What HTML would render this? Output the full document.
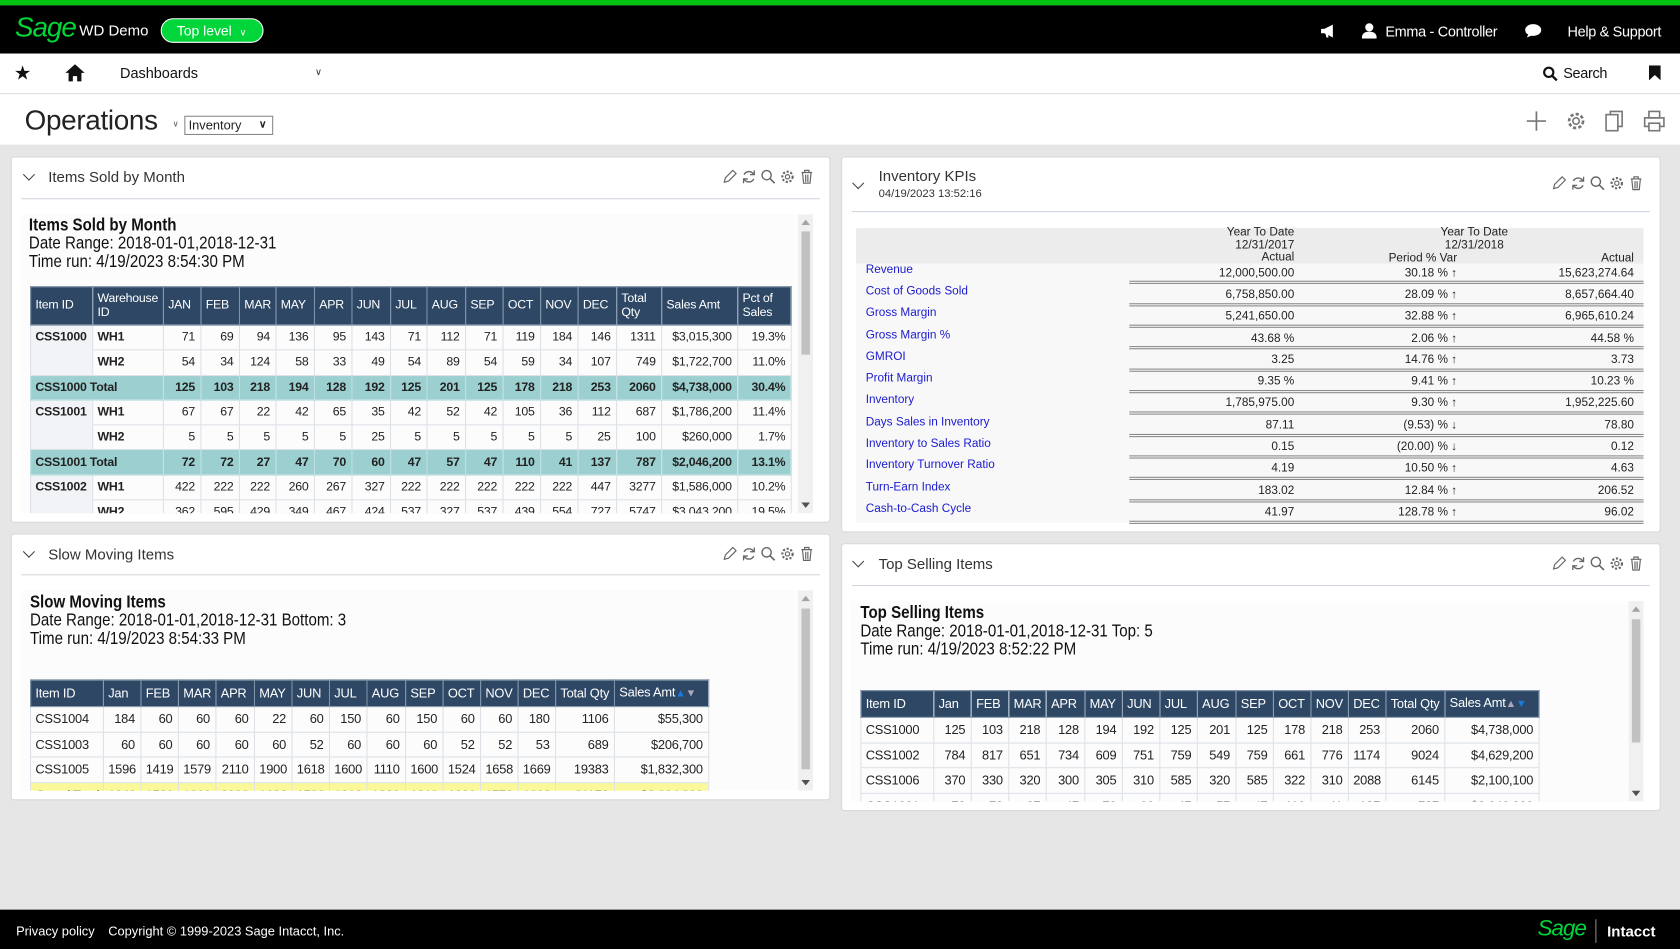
<!DOCTYPE html>
<html><head><meta charset="utf-8">
<style>
html,body{margin:0;padding:0;width:1680px;height:949px;overflow:hidden;background:#e6e6e6;}
#w{position:absolute;left:0;top:0;width:1568px;height:886px;transform:scale(1.071429);transform-origin:0 0;font-family:"Liberation Sans",Arial,sans-serif;color:#222;background:#e6e6e6;overflow:hidden}
.a{position:absolute}
.cond{display:inline-block;transform:scaleX(.88);transform-origin:0 0;white-space:nowrap}
.panel{position:absolute;background:#fff;border:1px solid #d6d9dc;border-radius:3px}
.ptitle{position:absolute;font-size:14px;color:#333;white-space:nowrap}
.chev{position:absolute;width:7px;height:7px;border-right:1.5px solid #444;border-bottom:1.5px solid #444;transform:rotate(45deg)}
.div{position:absolute;height:1px;background:#cfd6dd}
.icons{position:absolute;display:flex;gap:4px}
.icons svg{width:14px;height:14px}
.rep{position:absolute;background:#fcfcfc;overflow:hidden}
.sb{position:absolute;background:#f0f0f0;width:14px}
.sb .th{position:absolute;left:3px;width:8px;background:#c1c1c1}
.sb .up,.sb .dn{position:absolute;left:3px;width:0;height:0;border-left:4px solid transparent;border-right:4px solid transparent}
.sb .up{top:5px;border-bottom:5px solid #a3a3a3}
.sb .dn{bottom:5px;border-top:5px solid #505050}
.rh{position:absolute;font-size:16px;line-height:17px;color:#111}
table.t{position:absolute;border-collapse:collapse;table-layout:fixed;font-size:12px;letter-spacing:-0.2px}
table.t th{background:#2d4764;color:#fff;font-weight:normal;text-align:left;padding:0 4px;border:1px solid #7f93a8;line-height:13px;overflow:hidden}
table.t td{border:1px solid #dde2e8;padding:0 5px 0 4px;text-align:right;white-space:nowrap;overflow:hidden;color:#222}
table.t td.l{text-align:left}
table.t td.id{background:#f1f3f6;text-align:left;vertical-align:top;padding-top:5px;font-weight:bold}
table.t td.wh{text-align:left;font-weight:bold}
table.t tr.tot td{background:#9ccfcf;font-weight:bold;border-color:#bfe0e0}
table.t tr.yel td{background:#fbf89a}
.kl{position:absolute;left:808px;font-size:11px;color:#1a1ad0;white-space:nowrap}
.kv{position:absolute;font-size:11px;color:#222;text-align:right;white-space:nowrap}
.kline{position:absolute;left:1054px;width:480px;height:1px;border-top:1px solid #8a8a8a;border-bottom:1px solid #8a8a8a}
.arr{font-weight:bold;font-size:11px}
</style></head><body><div id="w">

<div class="a" style="left:0;top:0;width:1568px;height:5px;background:#00c211"></div>
<div class="a" style="left:0;top:5px;width:1568px;height:45px;background:#000"></div>
<div class="a" style="left:14px;top:10px;font-size:26px;color:#00d639;font-style:italic;letter-spacing:-1px">Sage</div>
<div class="a" style="left:74px;top:20px;font-size:14px;color:#fff">WD Demo</div>
<div class="a" style="left:150px;top:17px;width:96px;height:23px;border:1px solid #fff;border-radius:12px;background:#00d639;color:#fff;font-size:13px;line-height:22px;box-sizing:border-box;padding-left:14px">Top level&nbsp;&nbsp;<span style="font-size:9px">&#8744;</span></div>
<svg class="a" style="left:1232px;top:22px" width="16" height="14" viewBox="0 0 16 14"><path d="M1 5h3l8-4v12l-8-4H1z" fill="#fff"/><path d="M5 9l1 4h2l-1-4" fill="#fff"/></svg>
<svg class="a" style="left:1271px;top:21px" width="14" height="15" viewBox="0 0 14 15"><circle cx="7" cy="4.5" r="3.8" fill="#fff"/><path d="M0 15c0-5 3-6.5 7-6.5s7 1.5 7 6.5z" fill="#fff"/></svg>
<div class="a" style="left:1293px;top:22px;font-size:13.5px;color:#fff;letter-spacing:-0.3px">Emma - Controller</div>
<svg class="a" style="left:1423px;top:22px" width="16" height="14" viewBox="0 0 16 14"><ellipse cx="8" cy="6" rx="7.5" ry="5.5" fill="#fff"/><path d="M2 13l2-4 3 2z" fill="#fff"/></svg>
<div class="a" style="left:1463px;top:22px;font-size:13.5px;color:#fff;letter-spacing:-0.3px">Help &amp; Support</div>

<div class="a" style="left:0;top:50px;width:1568px;height:37px;background:#fff;border-bottom:1px solid #d8dde2"></div>
<div class="a" style="left:13px;top:58px;font-size:18px;color:#111">&#9733;</div>
<svg class="a" style="left:60px;top:59px" width="20" height="18" viewBox="0 0 20 18"><path d="M10 1L1 9h3v8h4v-5h4v5h4V9h3z" fill="#111"/></svg>
<div class="a" style="left:112px;top:61px;font-size:13.5px;color:#111">Dashboards</div>
<div class="a" style="left:294px;top:62px;font-size:9px;color:#333">&#8744;</div>
<svg class="a" style="left:1440px;top:62px" width="14" height="14" viewBox="0 0 14 14"><circle cx="5.5" cy="5.5" r="4.3" fill="none" stroke="#111" stroke-width="2"/><path d="M8.5 8.5L13 13" stroke="#111" stroke-width="2.2"/></svg>
<div class="a" style="left:1459px;top:61px;font-size:13.5px;color:#111;letter-spacing:-0.3px">Search</div>
<svg class="a" style="left:1539px;top:61px" width="11" height="14" viewBox="0 0 11 14"><path d="M0 0h11v14L5.5 9 0 14z" fill="#111"/></svg>

<div class="a" style="left:0;top:88px;width:1568px;height:47px;background:#fff"></div>
<div class="a" style="left:23px;top:97px;font-size:26px;color:#222;letter-spacing:-0.3px">Operations</div>
<div class="a" style="left:161px;top:111px;font-size:8px;color:#555">&#8744;</div>
<div class="a" style="left:172px;top:108px;width:83px;height:18px;border:1px solid #888;box-sizing:border-box;font-size:12px;line-height:16px;padding-left:3px;background:#fff">Inventory<span style="position:absolute;right:5px;top:0;font-size:10px;font-weight:bold">&#8744;</span></div>
<svg class="a" style="left:1424px;top:103px" width="20" height="20" viewBox="0 0 20 20"><path d="M10 1v18M1 10h18" stroke="#777" stroke-width="1.6"/></svg>
<svg class="a" style="left:1461px;top:103px" width="20" height="20" viewBox="0 0 20 20"><circle cx="10" cy="10" r="6.5" fill="none" stroke="#777" stroke-width="2.5" stroke-dasharray="3 2"/><circle cx="10" cy="10" r="3" fill="none" stroke="#777" stroke-width="1.5"/></svg>
<svg class="a" style="left:1498px;top:103px" width="18" height="20" viewBox="0 0 18 20"><rect x="1" y="4" width="11" height="15" fill="none" stroke="#777" stroke-width="1.5"/><path d="M5 4V1h11v14h-4" fill="none" stroke="#777" stroke-width="1.5"/></svg>
<svg class="a" style="left:1534px;top:103px" width="20" height="20" viewBox="0 0 20 20"><rect x="5" y="1" width="10" height="6" fill="none" stroke="#777" stroke-width="1.5"/><rect x="1" y="7" width="18" height="8" fill="none" stroke="#777" stroke-width="1.5"/><rect x="5" y="12" width="10" height="7" fill="#fff" stroke="#777" stroke-width="1.5"/></svg>

<!-- Panel 1 -->
<div class="panel" style="left:10px;top:146px;width:763px;height:340px"></div>
<div class="chev" style="left:23px;top:159px"></div>
<div class="ptitle" style="left:45px;top:157px">Items Sold by Month</div>
<div class="icons" style="left:674px;top:158px">
<svg viewBox="0 0 14 14"><path d="M2 12l1-4 7-7 3 3-7 7z" fill="none" stroke="#666" stroke-width="1.1"/></svg>
<svg viewBox="0 0 14 14"><path d="M11.5 5A5 5 0 0 0 2.5 5M2.5 9a5 5 0 0 0 9 0" fill="none" stroke="#666" stroke-width="1.3"/><path d="M12 1v4H8M2 13V9h4" fill="none" stroke="#666" stroke-width="1.2"/></svg>
<svg viewBox="0 0 14 14"><circle cx="5.5" cy="5.5" r="4.3" fill="none" stroke="#666" stroke-width="1.3"/><path d="M8.7 8.7L13 13" stroke="#666" stroke-width="1.5"/></svg>
<svg viewBox="0 0 14 14"><circle cx="7" cy="7" r="4.8" fill="none" stroke="#666" stroke-width="2" stroke-dasharray="2 1.6"/><circle cx="7" cy="7" r="2" fill="none" stroke="#666" stroke-width="1.1"/></svg>
<svg viewBox="0 0 14 14"><path d="M2 3h10M5 3V1h4v2M3 3l1 10h6l1-10M6 5v7M8 5v7" fill="none" stroke="#666" stroke-width="1.1"/></svg>
</div>
<div class="div" style="left:20px;top:185px;width:745px"></div>
<div class="rep" style="left:19px;top:200px;width:740px;height:279px">
<div class="rh" style="left:8px;top:2px"><span class="cond"><b>Items Sold by Month</b><br>Date Range: 2018-01-01,2018-12-31<br>Time run: 4/19/2023 8:54:30 PM</span></div>
<table class="t" style="left:9px;top:67px;width:711px;font-size:11.5px">
<colgroup><col style="width:58px"><col style="width:66px"><col style="width:35px"><col style="width:36px"><col style="width:34px"><col style="width:36px"><col style="width:35px"><col style="width:36px"><col style="width:34px"><col style="width:36px"><col style="width:35px"><col style="width:35px"><col style="width:35px"><col style="width:36px"><col style="width:42px"><col style="width:71px"><col style="width:50px"></colgroup>
<tr style="height:36px"><th>Item ID</th><th>Warehouse ID</th><th>JAN</th><th>FEB</th><th>MAR</th><th>MAY</th><th>APR</th><th>JUN</th><th>JUL</th><th>AUG</th><th>SEP</th><th>OCT</th><th>NOV</th><th>DEC</th><th>Total Qty</th><th>Sales Amt</th><th>Pct of Sales</th></tr>
<tr style="height:23.3px"><td class="id" rowspan="2">CSS1000</td><td class="wh">WH1</td><td>71</td><td>69</td><td>94</td><td>136</td><td>95</td><td>143</td><td>71</td><td>112</td><td>71</td><td>119</td><td>184</td><td>146</td><td>1311</td><td>$3,015,300</td><td>19.3%</td></tr>
<tr style="height:23.3px"><td class="wh">WH2</td><td>54</td><td>34</td><td>124</td><td>58</td><td>33</td><td>49</td><td>54</td><td>89</td><td>54</td><td>59</td><td>34</td><td>107</td><td>749</td><td>$1,722,700</td><td>11.0%</td></tr>
<tr class="tot" style="height:23.3px"><td class="l" colspan="2">CSS1000 Total</td><td>125</td><td>103</td><td>218</td><td>194</td><td>128</td><td>192</td><td>125</td><td>201</td><td>125</td><td>178</td><td>218</td><td>253</td><td>2060</td><td>$4,738,000</td><td>30.4%</td></tr>
<tr style="height:23.3px"><td class="id" rowspan="2">CSS1001</td><td class="wh">WH1</td><td>67</td><td>67</td><td>22</td><td>42</td><td>65</td><td>35</td><td>42</td><td>52</td><td>42</td><td>105</td><td>36</td><td>112</td><td>687</td><td>$1,786,200</td><td>11.4%</td></tr>
<tr style="height:23.3px"><td class="wh">WH2</td><td>5</td><td>5</td><td>5</td><td>5</td><td>5</td><td>25</td><td>5</td><td>5</td><td>5</td><td>5</td><td>5</td><td>25</td><td>100</td><td>$260,000</td><td>1.7%</td></tr>
<tr class="tot" style="height:23.3px"><td class="l" colspan="2">CSS1001 Total</td><td>72</td><td>72</td><td>27</td><td>47</td><td>70</td><td>60</td><td>47</td><td>57</td><td>47</td><td>110</td><td>41</td><td>137</td><td>787</td><td>$2,046,200</td><td>13.1%</td></tr>
<tr style="height:23.3px"><td class="id" rowspan="2">CSS1002</td><td class="wh">WH1</td><td>422</td><td>222</td><td>222</td><td>260</td><td>267</td><td>327</td><td>222</td><td>222</td><td>222</td><td>222</td><td>222</td><td>447</td><td>3277</td><td>$1,586,000</td><td>10.2%</td></tr>
<tr style="height:23.3px"><td class="wh">WH2</td><td>362</td><td>595</td><td>429</td><td>349</td><td>467</td><td>424</td><td>537</td><td>327</td><td>537</td><td>439</td><td>554</td><td>727</td><td>5747</td><td>$3,043,200</td><td>19.5%</td></tr>
</table>
<div class="sb" style="left:726px;top:0;height:279px"><div class="up"></div><div class="th" style="top:16px;height:115px"></div><div class="dn"></div></div>
</div>

<!-- Panel 2 KPI -->
<div class="panel" style="left:785px;top:146px;width:763px;height:349px"></div>
<div class="chev" style="left:797px;top:167px"></div>
<div class="ptitle" style="left:820px;top:156px">Inventory KPIs</div>
<div class="a" style="left:820px;top:175px;font-size:10.5px;color:#333">04/19/2023 13:52:16</div>
<div class="icons" style="left:1448px;top:164px">
<svg viewBox="0 0 14 14"><path d="M2 12l1-4 7-7 3 3-7 7z" fill="none" stroke="#666" stroke-width="1.1"/></svg>
<svg viewBox="0 0 14 14"><path d="M11.5 5A5 5 0 0 0 2.5 5M2.5 9a5 5 0 0 0 9 0" fill="none" stroke="#666" stroke-width="1.3"/><path d="M12 1v4H8M2 13V9h4" fill="none" stroke="#666" stroke-width="1.2"/></svg>
<svg viewBox="0 0 14 14"><circle cx="5.5" cy="5.5" r="4.3" fill="none" stroke="#666" stroke-width="1.3"/><path d="M8.7 8.7L13 13" stroke="#666" stroke-width="1.5"/></svg>
<svg viewBox="0 0 14 14"><circle cx="7" cy="7" r="4.8" fill="none" stroke="#666" stroke-width="2" stroke-dasharray="2 1.6"/><circle cx="7" cy="7" r="2" fill="none" stroke="#666" stroke-width="1.1"/></svg>
<svg viewBox="0 0 14 14"><path d="M2 3h10M5 3V1h4v2M3 3l1 10h6l1-10M6 5v7M8 5v7" fill="none" stroke="#666" stroke-width="1.1"/></svg>
</div>
<div class="div" style="left:795px;top:197px;width:745px"></div>
<div class="a" style="left:799px;top:213px;width:735px;height:275px;background:#f8f8f8"></div>
<div class="a" style="left:799px;top:213px;width:735px;height:33px;background:#ececec"></div>
<div class="kv" style="left:1100px;top:212px;width:108px;line-height:11.6px">Year To Date<br>12/31/2017<br>Actual</div>
<div class="kv" style="left:1320px;top:212px;width:112px;text-align:center;line-height:11.6px">Year To Date<br>12/31/2018</div>
<div class="kv" style="left:1260px;top:235px;width:100px">Period % Var</div>
<div class="kv" style="left:1460px;top:235px;width:65px">Actual</div>

<div class="kl" style="top:246px">Revenue</div><div class="kv" style="left:1100px;top:249px;width:108px">12,000,500.00</div><div class="kv" style="left:1250px;top:249px;width:110px">30.18 % <span class="arr">&#8593;</span></div><div class="kv" style="left:1400px;top:249px;width:125px">15,623,274.64</div><div class="kline" style="top:262px"></div>
<div class="kl" style="top:266px">Cost of Goods Sold</div><div class="kv" style="left:1100px;top:269px;width:108px">6,758,850.00</div><div class="kv" style="left:1250px;top:269px;width:110px">28.09 % <span class="arr">&#8593;</span></div><div class="kv" style="left:1400px;top:269px;width:125px">8,657,664.40</div><div class="kline" style="top:283px"></div>
<div class="kl" style="top:286px">Gross Margin</div><div class="kv" style="left:1100px;top:289px;width:108px">5,241,650.00</div><div class="kv" style="left:1250px;top:289px;width:110px">32.88 % <span class="arr">&#8593;</span></div><div class="kv" style="left:1400px;top:289px;width:125px">6,965,610.24</div><div class="kline" style="top:303px"></div>
<div class="kl" style="top:307px">Gross Margin %</div><div class="kv" style="left:1100px;top:310px;width:108px">43.68 %</div><div class="kv" style="left:1250px;top:310px;width:110px">2.06 % <span class="arr">&#8593;</span></div><div class="kv" style="left:1400px;top:310px;width:125px">44.58 %</div><div class="kline" style="top:323px"></div>
<div class="kl" style="top:327px">GMROI</div><div class="kv" style="left:1100px;top:330px;width:108px">3.25</div><div class="kv" style="left:1250px;top:330px;width:110px">14.76 % <span class="arr">&#8593;</span></div><div class="kv" style="left:1400px;top:330px;width:125px">3.73</div><div class="kline" style="top:344px"></div>
<div class="kl" style="top:347px">Profit Margin</div><div class="kv" style="left:1100px;top:350px;width:108px">9.35 %</div><div class="kv" style="left:1250px;top:350px;width:110px">9.41 % <span class="arr">&#8593;</span></div><div class="kv" style="left:1400px;top:350px;width:125px">10.23 %</div><div class="kline" style="top:364px"></div>
<div class="kl" style="top:367px">Inventory</div><div class="kv" style="left:1100px;top:370px;width:108px">1,785,975.00</div><div class="kv" style="left:1250px;top:370px;width:110px">9.30 % <span class="arr">&#8593;</span></div><div class="kv" style="left:1400px;top:370px;width:125px">1,952,225.60</div><div class="kline" style="top:384px"></div>
<div class="kl" style="top:388px">Days Sales in Inventory</div><div class="kv" style="left:1100px;top:391px;width:108px">87.11</div><div class="kv" style="left:1250px;top:391px;width:110px">(9.53) % <span class="arr">&#8595;</span></div><div class="kv" style="left:1400px;top:391px;width:125px">78.80</div><div class="kline" style="top:405px"></div>
<div class="kl" style="top:408px">Inventory to Sales Ratio</div><div class="kv" style="left:1100px;top:411px;width:108px">0.15</div><div class="kv" style="left:1250px;top:411px;width:110px">(20.00) % <span class="arr">&#8595;</span></div><div class="kv" style="left:1400px;top:411px;width:125px">0.12</div><div class="kline" style="top:425px"></div>
<div class="kl" style="top:428px">Inventory Turnover Ratio</div><div class="kv" style="left:1100px;top:431px;width:108px">4.19</div><div class="kv" style="left:1250px;top:431px;width:110px">10.50 % <span class="arr">&#8593;</span></div><div class="kv" style="left:1400px;top:431px;width:125px">4.63</div><div class="kline" style="top:445px"></div>
<div class="kl" style="top:449px">Turn-Earn Index</div><div class="kv" style="left:1100px;top:452px;width:108px">183.02</div><div class="kv" style="left:1250px;top:452px;width:110px">12.84 % <span class="arr">&#8593;</span></div><div class="kv" style="left:1400px;top:452px;width:125px">206.52</div><div class="kline" style="top:466px"></div>
<div class="kl" style="top:469px">Cash-to-Cash Cycle</div><div class="kv" style="left:1100px;top:472px;width:108px">41.97</div><div class="kv" style="left:1250px;top:472px;width:110px">128.78 % <span class="arr">&#8593;</span></div><div class="kv" style="left:1400px;top:472px;width:125px">96.02</div><div class="kline" style="top:486px"></div>

<!-- Panel 3 -->
<div class="panel" style="left:10px;top:498px;width:763px;height:247px"></div>
<div class="chev" style="left:23px;top:511px"></div>
<div class="ptitle" style="left:45px;top:509px">Slow Moving Items</div>
<div class="icons" style="left:674px;top:510px">
<svg viewBox="0 0 14 14"><path d="M2 12l1-4 7-7 3 3-7 7z" fill="none" stroke="#666" stroke-width="1.1"/></svg>
<svg viewBox="0 0 14 14"><path d="M11.5 5A5 5 0 0 0 2.5 5M2.5 9a5 5 0 0 0 9 0" fill="none" stroke="#666" stroke-width="1.3"/><path d="M12 1v4H8M2 13V9h4" fill="none" stroke="#666" stroke-width="1.2"/></svg>
<svg viewBox="0 0 14 14"><circle cx="5.5" cy="5.5" r="4.3" fill="none" stroke="#666" stroke-width="1.3"/><path d="M8.7 8.7L13 13" stroke="#666" stroke-width="1.5"/></svg>
<svg viewBox="0 0 14 14"><circle cx="7" cy="7" r="4.8" fill="none" stroke="#666" stroke-width="2" stroke-dasharray="2 1.6"/><circle cx="7" cy="7" r="2" fill="none" stroke="#666" stroke-width="1.1"/></svg>
<svg viewBox="0 0 14 14"><path d="M2 3h10M5 3V1h4v2M3 3l1 10h6l1-10M6 5v7M8 5v7" fill="none" stroke="#666" stroke-width="1.1"/></svg>
</div>
<div class="div" style="left:20px;top:536px;width:745px"></div>
<div class="rep" style="left:19px;top:551px;width:740px;height:187px">
<div class="rh" style="left:9px;top:3px"><span class="cond"><b>Slow Moving Items</b><br>Date Range: 2018-01-01,2018-12-31 Bottom: 3<br>Time run: 4/19/2023 8:54:33 PM</span></div>
<table class="t" style="left:9px;top:83px;width:633px">
<colgroup><col style="width:68px"><col style="width:35px"><col style="width:35px"><col style="width:35px"><col style="width:36px"><col style="width:35px"><col style="width:35px"><col style="width:35px"><col style="width:36px"><col style="width:35px"><col style="width:35px"><col style="width:35px"><col style="width:35px"><col style="width:55px"><col style="width:88px"></colgroup>
<tr style="height:25px"><th>Item ID</th><th>Jan</th><th>FEB</th><th>MAR</th><th>APR</th><th>MAY</th><th>JUN</th><th>JUL</th><th>AUG</th><th>SEP</th><th>OCT</th><th>NOV</th><th>DEC</th><th style="white-space:nowrap">Total Qty</th><th style="white-space:nowrap">Sales Amt<span style="color:#1a7ae0;font-size:10px">&#9650;</span><span style="color:#aab;font-size:10px">&#9660;</span></th></tr>
<tr style="height:23.6px"><td class="l">CSS1004</td><td>184</td><td>60</td><td>60</td><td>60</td><td>22</td><td>60</td><td>150</td><td>60</td><td>150</td><td>60</td><td>60</td><td>180</td><td>1106</td><td>$55,300</td></tr>
<tr style="height:23.6px"><td class="l">CSS1003</td><td>60</td><td>60</td><td>60</td><td>60</td><td>60</td><td>52</td><td>60</td><td>60</td><td>60</td><td>52</td><td>52</td><td>53</td><td>689</td><td>$206,700</td></tr>
<tr style="height:23.6px"><td class="l">CSS1005</td><td>1596</td><td>1419</td><td>1579</td><td>2110</td><td>1900</td><td>1618</td><td>1600</td><td>1110</td><td>1600</td><td>1524</td><td>1658</td><td>1669</td><td>19383</td><td>$1,832,300</td></tr>
<tr class="yel" style="height:23.6px"><td class="l">Grand Total</td><td>1840</td><td>1539</td><td>1699</td><td>2230</td><td>1982</td><td>1730</td><td>1810</td><td>1230</td><td>1810</td><td>1636</td><td>1770</td><td>1902</td><td>21178</td><td>$2,094,300</td></tr>
</table>
<div class="sb" style="left:726px;top:0;height:187px"><div class="up"></div><div class="th" style="top:17px;height:150px"></div><div class="dn"></div></div>
</div>

<!-- Panel 4 -->
<div class="panel" style="left:785px;top:507px;width:763px;height:248px"></div>
<div class="chev" style="left:797px;top:520px"></div>
<div class="ptitle" style="left:820px;top:518px">Top Selling Items</div>
<div class="icons" style="left:1448px;top:519px">
<svg viewBox="0 0 14 14"><path d="M2 12l1-4 7-7 3 3-7 7z" fill="none" stroke="#666" stroke-width="1.1"/></svg>
<svg viewBox="0 0 14 14"><path d="M11.5 5A5 5 0 0 0 2.5 5M2.5 9a5 5 0 0 0 9 0" fill="none" stroke="#666" stroke-width="1.3"/><path d="M12 1v4H8M2 13V9h4" fill="none" stroke="#666" stroke-width="1.2"/></svg>
<svg viewBox="0 0 14 14"><circle cx="5.5" cy="5.5" r="4.3" fill="none" stroke="#666" stroke-width="1.3"/><path d="M8.7 8.7L13 13" stroke="#666" stroke-width="1.5"/></svg>
<svg viewBox="0 0 14 14"><circle cx="7" cy="7" r="4.8" fill="none" stroke="#666" stroke-width="2" stroke-dasharray="2 1.6"/><circle cx="7" cy="7" r="2" fill="none" stroke="#666" stroke-width="1.1"/></svg>
<svg viewBox="0 0 14 14"><path d="M2 3h10M5 3V1h4v2M3 3l1 10h6l1-10M6 5v7M8 5v7" fill="none" stroke="#666" stroke-width="1.1"/></svg>
</div>
<div class="div" style="left:795px;top:546px;width:745px"></div>
<div class="rep" style="left:794px;top:561px;width:740px;height:187px">
<div class="rh" style="left:9px;top:3px"><span class="cond"><b>Top Selling Items</b><br>Date Range: 2018-01-01,2018-12-31 Top: 5<br>Time run: 4/19/2023 8:52:22 PM</span></div>
<table class="t" style="left:9px;top:83px;width:633px">
<colgroup><col style="width:68px"><col style="width:35px"><col style="width:35px"><col style="width:35px"><col style="width:36px"><col style="width:35px"><col style="width:35px"><col style="width:35px"><col style="width:36px"><col style="width:35px"><col style="width:35px"><col style="width:35px"><col style="width:35px"><col style="width:55px"><col style="width:88px"></colgroup>
<tr style="height:25px"><th>Item ID</th><th>Jan</th><th>FEB</th><th>MAR</th><th>APR</th><th>MAY</th><th>JUN</th><th>JUL</th><th>AUG</th><th>SEP</th><th>OCT</th><th>NOV</th><th>DEC</th><th style="white-space:nowrap">Total Qty</th><th style="white-space:nowrap">Sales Amt<span style="color:#aab;font-size:10px">&#9650;</span><span style="color:#1a7ae0;font-size:10px">&#9660;</span></th></tr>
<tr style="height:23.6px"><td class="l">CSS1000</td><td>125</td><td>103</td><td>218</td><td>128</td><td>194</td><td>192</td><td>125</td><td>201</td><td>125</td><td>178</td><td>218</td><td>253</td><td>2060</td><td>$4,738,000</td></tr>
<tr style="height:23.6px"><td class="l">CSS1002</td><td>784</td><td>817</td><td>651</td><td>734</td><td>609</td><td>751</td><td>759</td><td>549</td><td>759</td><td>661</td><td>776</td><td>1174</td><td>9024</td><td>$4,629,200</td></tr>
<tr style="height:23.6px"><td class="l">CSS1006</td><td>370</td><td>330</td><td>320</td><td>300</td><td>305</td><td>310</td><td>585</td><td>320</td><td>585</td><td>322</td><td>310</td><td>2088</td><td>6145</td><td>$2,100,100</td></tr>
<tr style="height:23.6px"><td class="l">CSS1001</td><td>72</td><td>72</td><td>27</td><td>47</td><td>70</td><td>60</td><td>47</td><td>57</td><td>47</td><td>110</td><td>41</td><td>137</td><td>787</td><td>$2,046,200</td></tr>
</table>
<div class="sb" style="left:726px;top:0;height:187px"><div class="up"></div><div class="th" style="top:17px;height:115px"></div><div class="dn"></div></div>
</div>

<div class="a" style="left:0;top:849px;width:1568px;height:37px;background:#000"></div>
<div class="a" style="left:15px;top:862px;font-size:12px;color:#fff">Privacy policy</div>
<div class="a" style="left:101px;top:862px;font-size:12px;color:#fff">Copyright © 1999-2023 Sage Intacct, Inc.</div>
<div class="a" style="left:1435px;top:855px;font-size:21px;color:#00d639;font-style:italic;letter-spacing:-1px">Sage</div>
<div class="a" style="left:1489px;top:858px;width:1px;height:22px;background:#888"></div>
<div class="a" style="left:1500px;top:861px;font-size:14px;color:#fff;font-weight:bold">Intacct</div>

</div></body></html>
